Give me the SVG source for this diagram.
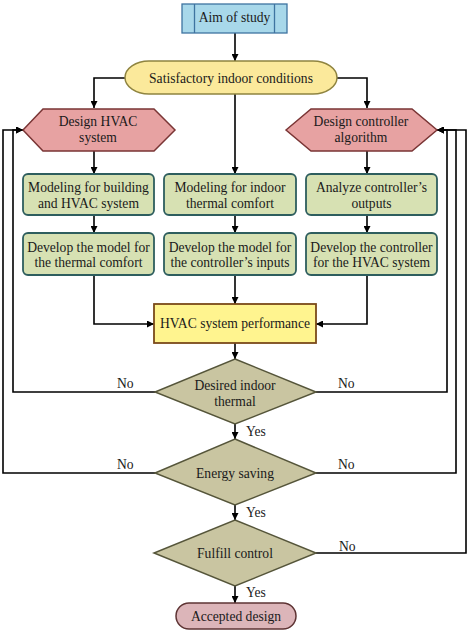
<svg xmlns="http://www.w3.org/2000/svg" width="474" height="635" viewBox="0 0 474 635" font-family="'Liberation Serif', 'DejaVu Serif', serif">
<defs>
<marker id="ah" viewBox="0 0 10 10" refX="10" refY="5" markerWidth="7" markerHeight="7" markerUnits="userSpaceOnUse" orient="auto">
<path d="M0,0 L10,5 L0,10 z" fill="#000"/>
</marker>
<style>
text{font-family:'Liberation Serif','DejaVu Serif',serif;font-size:13.6px;fill:#1a1a1a;text-anchor:middle}
.lbl{text-anchor:start}
.c{fill:none;stroke:#000;stroke-width:1.6;marker-end:url(#ah)}
.green{fill:#d7e1b3;stroke:#2e5e5e;stroke-width:1.8}
.hex{fill:#e7a2a2;stroke:#7a3535;stroke-width:1.5}
.dia{fill:#c9c5a1;stroke:#55553a;stroke-width:1.5}
</style>
</defs>
<rect width="474" height="635" fill="#fff"/>
<g id="connectors">
<path class="c" d="M235,33 V61"/>
<path class="c" d="M125,78 H94 V108"/>
<path class="c" d="M337,78 H367 V108"/>
<path class="c" d="M235,94 V174"/>
<path class="c" d="M94,151 V174"/>
<path class="c" d="M367,151 V174"/>
<path class="c" d="M94,215 V233"/>
<path class="c" d="M235,215 V233"/>
<path class="c" d="M367,215 V233"/>
<path class="c" d="M94,275 V324 H154"/>
<path class="c" d="M235,275 V304"/>
<path class="c" d="M367,275 V324 H316"/>
<path class="c" d="M235,343 V359"/>
<path class="c" d="M155,392 H13 V130 H23"/>
<path class="c" d="M316,392 H447 V130 H437"/>
<path class="c" d="M235,424 V439"/>
<path class="c" d="M155,473 H3 V130 H23"/>
<path class="c" d="M316,473 H456 V130 H437"/>
<path class="c" d="M235,505 V520"/>
<path class="c" d="M316,553 H466 V130 H437"/>
<path class="c" d="M235,586 V603"/>
<text class="lbl" x="117" y="388">No</text>
<text class="lbl" x="338" y="388">No</text>
<text class="lbl" x="117" y="469">No</text>
<text class="lbl" x="338" y="469">No</text>
<text class="lbl" x="339" y="551">No</text>
<text class="lbl" x="246" y="436">Yes</text>
<text class="lbl" x="246" y="517">Yes</text>
<text class="lbl" x="246" y="597">Yes</text>
</g>
<g id="aim">
<rect x="182" y="4" width="105" height="29" fill="#a8d8ea" stroke="#3e74a0" stroke-width="1.3"/>
<line x1="194.5" y1="4" x2="194.5" y2="33" stroke="#3e74a0" stroke-width="1.3"/>
<line x1="274.5" y1="4" x2="274.5" y2="33" stroke="#3e74a0" stroke-width="1.3"/>
<text x="234.5" y="22">Aim of study</text>
</g>
<g id="satisfactory">
<rect x="125" y="61" width="212" height="33" rx="24" ry="16.5" fill="#fbe99b" stroke="#8f8440" stroke-width="1.5"/>
<text x="231" y="83">Satisfactory indoor conditions</text>
</g>
<g id="design-hvac">
<polygon class="hex" points="23,130 43,109 154,109 175,130 154,151 43,151"/>
<text x="98" y="126">Design HVAC</text>
<text x="98" y="142">system</text>
</g>
<g id="design-controller">
<polygon class="hex" points="286,130 311,109 412,109 437,130 412,151 311,151"/>
<text x="361" y="126">Design controller</text>
<text x="361" y="142">algorithm</text>
</g>
<g id="model-building">
<rect class="green" x="23" y="174" width="131" height="41" rx="5"/>
<text x="88.5" y="192">Modeling for building</text>
<text x="88.5" y="208">and HVAC system</text>
</g>
<g id="model-thermal">
<rect class="green" x="164" y="174" width="132" height="41" rx="5"/>
<text x="230" y="192">Modeling for indoor</text>
<text x="230" y="208">thermal comfort</text>
</g>
<g id="analyze-outputs">
<rect class="green" x="306" y="174" width="131" height="41" rx="5"/>
<text x="371.5" y="192">Analyze controller’s</text>
<text x="371.5" y="208">outputs</text>
</g>
<g id="develop-comfort">
<rect class="green" x="23" y="233" width="131" height="42" rx="5"/>
<text x="88.5" y="252">Develop the model for</text>
<text x="88.5" y="267">the thermal comfort</text>
</g>
<g id="develop-inputs">
<rect class="green" x="164" y="233" width="132" height="42" rx="5"/>
<text x="230" y="252">Develop the model for</text>
<text x="230" y="267">the controller’s inputs</text>
</g>
<g id="develop-controller">
<rect class="green" x="306" y="233" width="131" height="42" rx="5"/>
<text x="371.5" y="252">Develop the controller</text>
<text x="371.5" y="267">for the HVAC system</text>
</g>
<g id="performance">
<rect x="154" y="304" width="162" height="39" fill="#fff48f" stroke="#7a4a1a" stroke-width="1.8"/>
<text x="235" y="328">HVAC system performance</text>
</g>
<g id="desired">
<polygon class="dia" points="235,359 316,392 235,424 155,392"/>
<text x="235" y="390">Desired indoor</text>
<text x="235" y="406">thermal</text>
</g>
<g id="energy">
<polygon class="dia" points="235,439 316,473 235,505 155,473"/>
<text x="235" y="478">Energy saving</text>
</g>
<g id="fulfill">
<polygon class="dia" points="235,520 316,553 235,586 154,553"/>
<text x="235" y="558">Fulfill control</text>
</g>
<g id="accepted">
<rect x="176" y="603" width="120" height="26" rx="13" ry="13" fill="#dcb5b9" stroke="#5e3434" stroke-width="1.5"/>
<text x="236" y="621">Accepted design</text>
</g>
</svg>
